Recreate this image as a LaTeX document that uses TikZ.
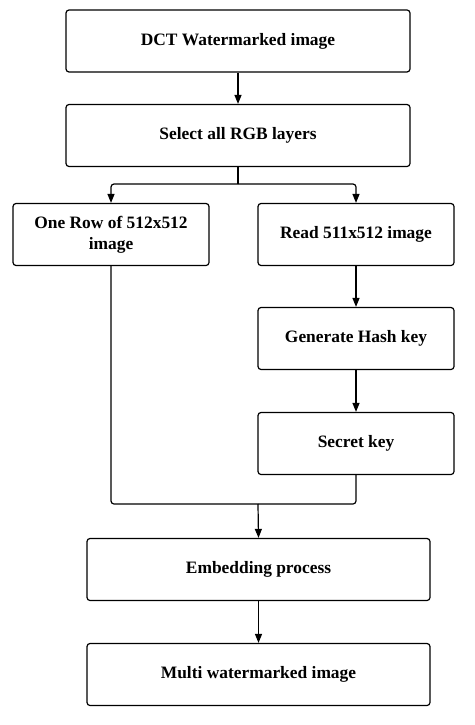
\documentclass[tikz,border=0pt]{standalone}
\usepackage{fontspec}
\setmainfont{Liberation Serif}
\usetikzlibrary{arrows.meta}
\begin{document}
\begin{tikzpicture}[x=1pt,y=-1pt,
  box/.style={draw, line width=1.2pt, rounded corners=3pt, align=center,
    font=\fontsize{17.4}{21}\selectfont\bfseries, inner sep=0pt},
  wide/.style={box, minimum width=344pt, minimum height=62pt},
  narrow/.style={box, minimum width=196pt, minimum height=62pt},
  conn/.style={line width=1.2pt, rounded corners=3pt},
  arr/.style={conn, -{Triangle[length=9pt,width=7pt]}}]
\useasboundingbox (0,0) rectangle (474,725);
\node[wide] (b1) at (238,41) {DCT Watermarked image};
\node[wide] (b2) at (238,135.5) {Select all RGB layers};
\node[narrow] (left) at (111,234.5) {One Row of 512x512\\image};
\node[narrow] (read) at (356,234.5) {Read 511x512 image};
\node[narrow] (gen) at (356,338.5) {Generate Hash key};
\node[narrow] (sec) at (356,443.5) {Secret key};
\node[box, minimum width=343pt, minimum height=62pt] (emb) at (258.5,569.5) {Embedding process};
\node[box, minimum width=343pt, minimum height=62pt] (multi) at (258.5,674.5) {Multi watermarked image};
\coordinate (br) at (238,184);
\coordinate (mg) at (258,504);
\draw[arr] (b1) -- (b2);
\draw[conn] (b2.south) -- (br);
\draw[arr] (br) -| (left.north);
\draw[arr] (br) -| (read.north);
\draw[arr] (read) -- (gen);
\draw[arr] (gen) -- (sec);
\draw[conn] (left.south) |- (mg);
\draw[conn] (sec.south) |- (mg);
\draw[arr] (mg) -- (emb.north);
\draw[arr] (emb) -- (multi);
\end{tikzpicture}
\end{document}
